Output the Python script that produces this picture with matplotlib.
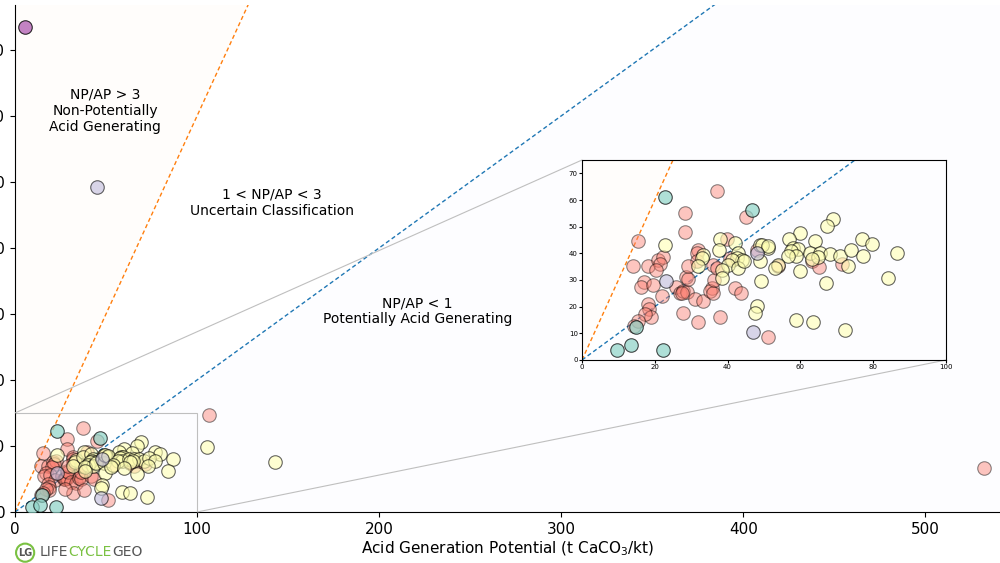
import matplotlib
matplotlib.use("Agg")
import matplotlib.pyplot as plt
from mpl_toolkits.axes_grid1.inset_locator import mark_inset

# Data: (AP, NP) per category
pink_x = [37.2,28.4,28.3,45.1,15.5,14.1,18.0,21.0,22.3,21.4,20.3,17.1,16.1,19.4,22.1,18.2,18.4,18.9,17.2,15.3,14.4,
          25.8,26.9,27.8,28.8,27.5,28.6,29.2,32.0,31.7,31.7,29.1,31.0,33.3,32.0,27.7,35.8,35.2,36.1,36.4,36.1,37.0,37.9,
          42.0,43.6,39.7,40.6,48.0,51.2,63.1,65.2,71.4,53.9,106.6,532.0]
pink_y = [63.5,55.2,47.9,53.7,44.8,35.1,35.1,37.6,38.6,36.0,33.9,29.2,27.2,28.0,24.1,21.1,19.1,16.3,17.3,14.7,12.9,
          27.4,25.0,26.0,25.5,25.0,31.1,30.5,41.4,40.2,37.1,35.1,22.8,22.0,14.2,17.6,27.0,26.0,25.0,30.1,35.8,34.5,16.3,
          27.0,25.0,45.2,38.3,41.3,8.8,37.0,34.7,36.1,35.3,73.5,33.0]
yellow_x = [22.8,33.3,32.9,32.0,37.9,37.6,42.0,42.9,42.5,43.9,41.1,40.2,42.9,38.4,38.4,44.4,48.9,51.2,48.9,49.3,48.0,47.5,
            69.0,67.2,59.9,56.9,64.0,76.8,79.7,86.6,49.4,51.2,58.0,59.4,57.5,58.9,56.6,62.6,65.4,68.1,70.9,73.8,77.1,73.2,
            64.9,63.1,53.9,53.0,59.9,66.9,84.0,58.8,63.4,72.3,105.5,142.9]
yellow_y = [43.2,39.3,38.1,35.1,45.2,41.4,43.9,40.1,38.3,37.6,37.6,35.8,34.5,33.9,30.7,37.0,43.3,42.0,37.1,29.5,20.4,17.8,
            53.0,50.2,47.7,45.5,44.5,45.2,43.6,40.2,43.3,42.7,42.0,41.6,40.8,38.9,38.9,40.1,40.1,39.9,38.9,41.2,38.9,35.1,
            38.6,37.9,35.7,34.4,33.2,28.9,30.7,15.1,14.1,11.3,49.0,38.0]
teal_x = [22.8,46.8,14.8,9.5,13.5,22.3]
teal_y = [61.1,56.3,12.5,3.8,5.6,3.6]
lav_x = [23.1,47.1,48.0,45.0]
lav_y = [29.7,10.4,40.0,246.0]
purple_x = [5.5]
purple_y = [367.0]

series = [(pink_x, pink_y, '#fb8072', 0.45), (yellow_x, yellow_y, '#ffffb3', 0.6), (teal_x, teal_y, '#8dd3c7', 0.7),
          (lav_x, lav_y, '#bebada', 0.6), (purple_x, purple_y, '#b565b5', 0.8)]

fig = plt.figure(figsize=(10, 5.63), dpi=100)
ax = fig.add_axes([0.015, 0.0906, 0.985, 0.9005])
XMAX, YMAX = 541, 384
ax.set_xlim(0, XMAX); ax.set_ylim(0, YMAX)

def shade(a, xm, ym):
    a.fill_between([0, xm], [0, 3*xm], [ym*2]*2, color='#ff9933', alpha=0.02, lw=0, zorder=0)
    a.fill_between([0, xm], [0, 0], [0, xm], color='#6677ff', alpha=0.012, lw=0, zorder=0)
    a.plot([0, xm], [0, 3*xm], '--', color='#ff7f0e', lw=1, dashes=(3, 2), zorder=1)
    a.plot([0, xm], [0, xm], '--', color='#1f77b4', lw=1, dashes=(3, 2), zorder=1)

shade(ax, XMAX, YMAX)
for xs, ys, c, al in series:
    ax.scatter(xs, ys, s=95, c=c, edgecolors='black', linewidths=0.8, alpha=al, zorder=3)

for s in ['top', 'right']:
    ax.spines[s].set_visible(False)
ax.set_yticks([0, 50, 100, 150, 200, 250, 300, 350])
ax.set_xticks([0, 100, 200, 300, 400, 500])
ax.tick_params(labelsize=11)
ax.set_xlabel('Acid Generation Potential (t CaCO$_3$/kt)', fontsize=11, labelpad=2)

ax.text(49.5, 304, 'NP/AP > 3\nNon-Potentially\nAcid Generating', ha='center', va='center', fontsize=10)
ax.text(141, 234, '1 < NP/AP < 3\nUncertain Classification', ha='center', va='center', fontsize=10)
ax.text(221, 152, 'NP/AP < 1\nPotentially Acid Generating', ha='center', va='center', fontsize=10)

axin = fig.add_axes([0.582, 0.3606, 0.364, 0.3552])
axin.set_xlim(0, 100); axin.set_ylim(0, 75)
axin.set_facecolor('white')
shade(axin, 100, 75)
for xs, ys, c, al in series:
    axin.scatter(xs, ys, s=95, c=c, edgecolors='black', linewidths=0.8, alpha=al, zorder=3)
axin.set_xticks([0, 20, 40, 60, 80, 100])
axin.set_yticks([0, 10, 20, 30, 40, 50, 60, 70])
axin.tick_params(labelsize=5, length=2, pad=1)
for s in axin.spines.values():
    s.set_linewidth(0.8)
mark_inset(ax, axin, loc1=2, loc2=4, fc='none', ec='0.75', lw=0.8)

fig.text(0.018, 0.013, 'LG', fontsize=7, fontweight='bold', color='#555555',
         bbox=dict(boxstyle='circle,pad=0.2', fc='white', ec='#7ac142', lw=1.5))
fig.text(0.040, 0.013, 'LIFE', fontsize=10, color='#555555')
fig.text(0.068, 0.013, 'CYCLE', fontsize=10, color='#7ac142')
fig.text(0.112, 0.013, 'GEO', fontsize=10, color='#555555')

fig.savefig('out.png', dpi=100)
